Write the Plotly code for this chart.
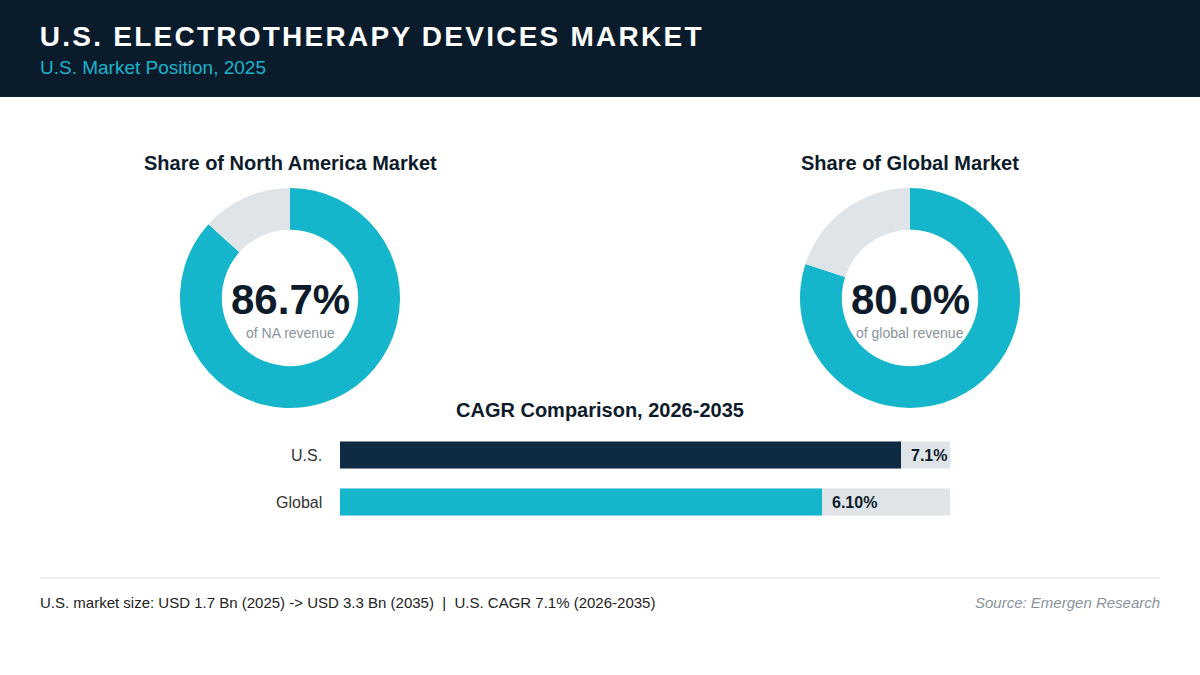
import plotly.graph_objects as go

W, H = 1200, 675

# donut data
donut_titles = ["Share of North America Market", "Share of Global Market"]
donut_shares = [86.7, 80.0]
donut_notes = ["of NA revenue", "of global revenue"]

# CAGR bars
bar_labels = ["U.S.", "Global"]
bar_values = [7.1, 6.10]
bar_text = ["7.1%", "6.10%"]
bar_colors = ["#0f2a43", "#15b6cb"]
axis_max = 7.72

TEAL = "#15b6cb"
GRAY = "#dfe4e8"
DARK = "#0d1b2a"
FONT = "Liberation Sans, Arial, sans-serif"


def py(px):
    # pixel from top -> paper y
    return 1 - px / H


def px_x(px):
    return px / W


fig = go.Figure()

# donuts
centers = [290, 910]
radius = 110
for i in range(2):
    cx = centers[i]
    fig.add_trace(go.Pie(
        values=[donut_shares[i], 100 - donut_shares[i]],
        labels=["share", "rest"],
        hole=0.62,
        sort=False,
        direction="clockwise",
        rotation=0,
        textinfo="none",
        hoverinfo="skip",
        showlegend=False,
        marker=dict(colors=[TEAL, GRAY], line=dict(width=0)),
        domain=dict(x=[px_x(cx - radius), px_x(cx + radius)],
                    y=[py(298 + radius), py(298 - radius)]),
    ))

# bar tracks + bars
fig.add_trace(go.Bar(
    y=bar_labels, x=[axis_max] * len(bar_labels), orientation="h",
    marker=dict(color=GRAY, line=dict(width=0)), width=0.57,
    hoverinfo="skip", showlegend=False,
))
fig.add_trace(go.Bar(
    y=bar_labels, x=bar_values, orientation="h",
    marker=dict(color=bar_colors, line=dict(width=0)), width=0.57,
    showlegend=False,
))

fig.update_layout(
    width=W, height=H,
    margin=dict(l=0, r=0, t=0, b=0),
    paper_bgcolor="white", plot_bgcolor="white",
    barmode="overlay",
    font=dict(family=FONT, color=DARK),
    xaxis=dict(domain=[px_x(340), px_x(950)], range=[0, axis_max],
               visible=False, fixedrange=True),
    yaxis=dict(domain=[py(525.5), py(431.5)], range=[1.5, -0.5],
               visible=False, fixedrange=True),
)

shapes = [
    dict(type="rect", xref="paper", yref="paper", x0=0, x1=1, y0=py(97), y1=1,
         fillcolor="#0a1b2b", line=dict(width=0), layer="below"),
    dict(type="line", xref="paper", yref="paper", x0=px_x(40), x1=px_x(1160),
         y0=py(578), y1=py(578), line=dict(color="#dde1e5", width=1)),
]

annotations = [
    # centred so the extra letter spacing spreads evenly
    dict(text="<b>U.S. ELECTROTHERAPY DEVICES MARKET</b>", x=px_x(372), y=py(36),
         xanchor="center", yanchor="middle", font=dict(size=28, color="white")),
    dict(text="U.S. Market Position, 2025", x=px_x(38), y=py(67),
         xanchor="left", yanchor="middle", font=dict(size=19, color="#1ab4cc")),
    dict(text="<b>CAGR Comparison, 2026-2035</b>", x=0.5, y=py(410),
         xanchor="center", yanchor="middle", font=dict(size=20, color=DARK)),
    dict(text="U.S. market size: USD 1.7 Bn (2025) -> USD 3.3 Bn (2035)  |  U.S. CAGR 7.1% (2026-2035)",
         x=px_x(38), y=py(602), xanchor="left", yanchor="middle",
         font=dict(size=15, color="#222222")),
    dict(text="<i>Source: Emergen Research</i>", x=px_x(1162), y=py(602),
         xanchor="right", yanchor="middle", font=dict(size=15, color="#8a939b")),
]

for i in range(2):
    cx = centers[i]
    annotations += [
        dict(text="<b>" + donut_titles[i] + "</b>", x=px_x(cx), y=py(163),
             xanchor="center", yanchor="middle", font=dict(size=20, color=DARK)),
        dict(text="<b>%.1f%%</b>" % donut_shares[i], x=px_x(cx), y=py(299),
             xanchor="center", yanchor="middle", font=dict(size=42, color=DARK)),
        dict(text=donut_notes[i], x=px_x(cx), y=py(333),
             xanchor="center", yanchor="middle", font=dict(size=14, color="#8a939b")),
    ]

for i in range(len(bar_labels)):
    annotations.append(dict(text=bar_labels[i], x=px_x(324), y=bar_labels[i], xref="paper", yref="y",
                            xanchor="right", yanchor="middle", showarrow=False,
                            font=dict(size=16, color="#333333")))
    annotations.append(dict(text="<b>" + bar_text[i] + "</b>", x=bar_values[i], y=bar_labels[i],
                            xref="x", yref="y", xanchor="left", yanchor="middle", xshift=8,
                            showarrow=False, font=dict(size=16, color=DARK)))

for a in annotations:
    a.setdefault("xref", "paper")
    a.setdefault("yref", "paper")
    a.setdefault("showarrow", False)

fig.update_layout(shapes=shapes, annotations=annotations)

# remove page margin and widen the header title like the original
post = """
document.body.style.margin = '0';
document.querySelectorAll('.annotation-text').forEach(function (t) {
    if (t.textContent.indexOf('ELECTROTHERAPY') >= 0) { t.style.letterSpacing = '2.25px'; }
});
"""
fig.write_html("out.html", post_script=post, config={"displayModeBar": False})
